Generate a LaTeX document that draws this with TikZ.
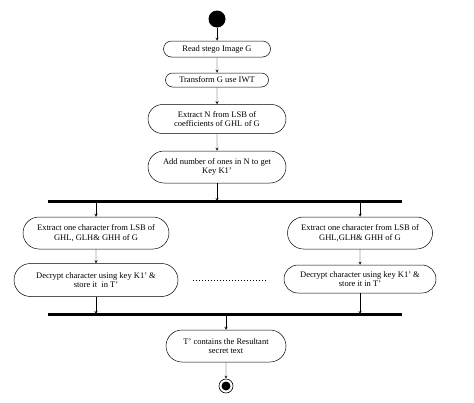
\documentclass[tikz,border=0pt]{standalone}
\usepackage{fontspec}
\setmainfont{Liberation Serif}
\usetikzlibrary{shapes.misc}

\begin{document}
\begin{tikzpicture}[x=1pt,y=-1pt,>=stealth,
  act/.style={draw,rounded rectangle,line width=0.5pt,align=center,inner sep=1pt,
    font=\fontsize{8.5}{9.5}\selectfont},
  bar/.style={line width=3pt}]
  \useasboundingbox (0,0) rectangle (474,402);
  % start and first steps
  \node[circle,fill,minimum size=17,inner sep=0pt] (start) at (217,19) {};
  \node[act,minimum width=109,minimum height=16] (read) at (217,49) {Read stego Image G};
  \node[act,minimum width=105,minimum height=14] (iwt) at (217,80) {Transform G use IWT};
  \node[act,minimum width=140,minimum height=29] (extN) at (217,119) {Extract N from LSB of\\coefficients of GHL of G};
  \node[act,minimum width=140,minimum height=32] (key) at (217,167) {Add number of ones in N to get\\Key K1'};
  \draw[->] (start) -- (read);
  \draw[->] (read) -- (iwt);
  \draw[->] (iwt) -- (extN);
  \draw[->] (extN) -- (key);
  % fork
  \coordinate (forkL) at (48,201);
  \coordinate (forkR) at (402,201);
  \draw[bar] (forkL) -- (forkR);
  \draw[->] (key.south) -- (key.south |- forkL);
  \node[act,minimum width=148,minimum height=32] (extA) at (96,233) {Extract one character from LSB of\\GHL, GLH\& GHH of G};
  \node[act,minimum width=147,minimum height=32] (extB) at (360,233) {Extract one character from LSB of\\GHL,GLH\& GHH of G};
  \node[act,minimum width=166,minimum height=33] (decA) at (96,280) {Decrypt character using key K1' \&\\store it\ \ in T'};
  \node[act,minimum width=154,minimum height=28] (decB) at (360,279) {Decrypt character using key K1' \&\\store it in T'};
  \draw[->] (extA.north |- forkL) -- (extA.north);
  \draw[->] (extB.north |- forkL) -- (extB.north);
  \draw[->] (extA) -- (decA);
  \draw[->] (extB) -- (decB);
  \draw[line width=1pt,dotted] (decA.east) ++(15,0) -- ++(73,0);
  % join
  \coordinate (joinL) at (48,314);
  \coordinate (joinR) at (402,314);
  \draw[bar] (joinL) -- (joinR);
  \draw[->] (decA.south) -- (decA.south |- joinL);
  \draw[->] (decB.south) -- (decB.south |- joinL);
  \node[act,minimum width=122,minimum height=32] (res) at (226,346) {T' contains the Resultant\\secret text};
  \draw[->] (res.north |- joinL) -- (res.north);
  % end
  \node[circle,draw,line width=0.6pt,minimum size=14,inner sep=0pt] (stop) at (226,386) {};
  \fill (stop) circle (4.5);
  \draw[->] (res) -- (stop);
\end{tikzpicture}
\end{document}
